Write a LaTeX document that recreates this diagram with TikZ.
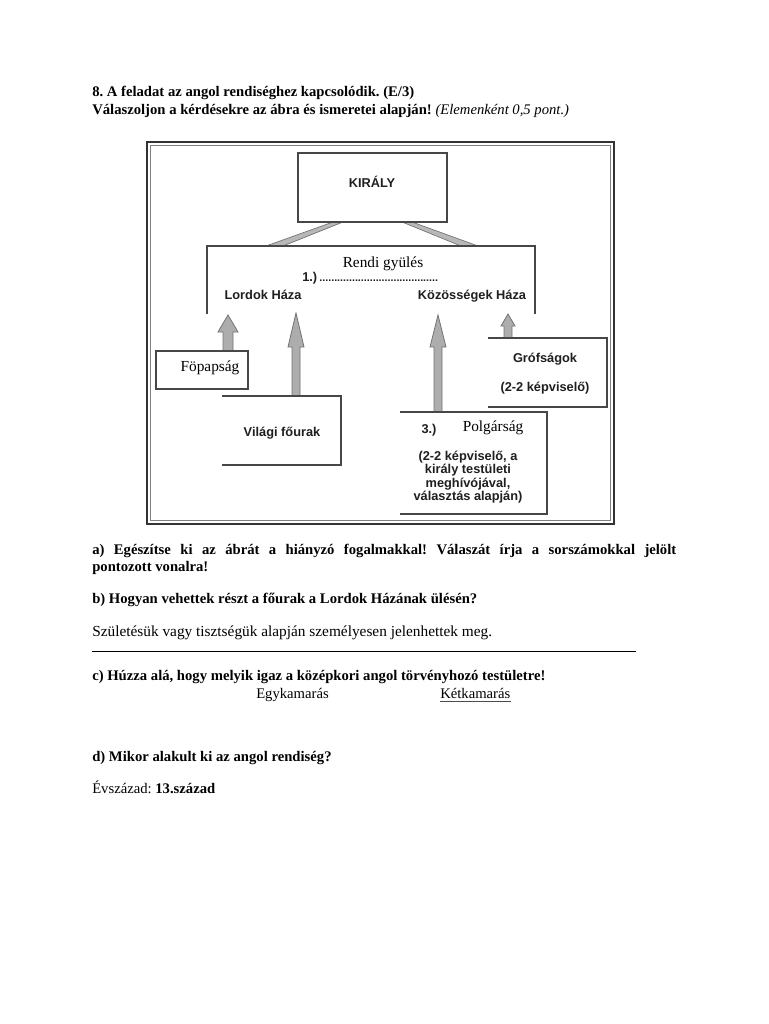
\documentclass[tikz,border=0pt]{standalone}
\usepackage{fontspec}
\setmainfont{Liberation Serif}
\newfontfamily\arialf{Liberation Sans}
\frenchspacing
\begin{document}
\frenchspacing
\begin{tikzpicture}[x=0.75pt,y=-0.75pt,
  boxline/.style={draw=black!72, line width=1.1pt},
  sanslbl/.style={font=\arialf\bfseries\fontsize{9.6}{8.6}\selectfont, text=black!88, inner sep=0, anchor=base},
  seriflbl/.style={font=\fontsize{11.5}{13}\selectfont, inner sep=0, anchor=base},
  blockarrow/.style={fill=black!32, draw=black!55, line width=0.6pt},
  band/.style={fill=black!28, draw=black!55, line width=0.5pt},
  qtext/.style={font=\bfseries\fontsize{11}{13}\selectfont, anchor=base west, inner sep=0},
  rtext/.style={font=\fontsize{11.5}{13}\selectfont, anchor=base west, inner sep=0}]
\useasboundingbox (0,0) rectangle (768,1024);
\fill[white] (0,0) rectangle (768,1024);

% header
\node[qtext] (h1) at (92,97) {8. A feladat az angol rendiséghez kapcsolódik. (E/3)};
\node[qtext] (h2) at (92,114) {Válaszoljon a kérdésekre az ábra és ismeretei alapján! {\mdseries\itshape (Elemenként 0,5 pont.)}};

% frame
\draw[line width=1.2pt, black!80] (147,142) rectangle (614,524);
\draw[line width=0.6pt, black!50] (150.5,145.5) rectangle (610.5,520.5);

% bands from king to assembly
\filldraw[band] (333,222) -- (343,222) -- (283,246) -- (266,246) -- cycle;
\filldraw[band] (402,222) -- (412,222) -- (478,246) -- (461,246) -- cycle;

% king
\draw[boxline, fill=white] (298,153) rectangle (447,222);
\node[sanslbl] (kiraly) at (372,187.5) {KIRÁLY};

% assembly
\draw[boxline] (207,314) -- (207,246) -- (535,246) -- (535,314);
\node[seriflbl] (rendi) at (383,267) {Rendi gyülés};
\node[sanslbl, anchor=base west] (egy) at (302,281) {1.) \fontsize{8}{8}\selectfont\kern-1pt ........................................};
\node[sanslbl] (lordok) at (263,299) {Lordok Háza};
\node[sanslbl] (kozos) at (472,299) {Közösségek Háza};

% arrows
\filldraw[blockarrow] (223,351) -- (223,332) -- (218,332) -- (228,315) -- (238,332) -- (233,332) -- (233,351) -- cycle;
\filldraw[blockarrow] (292,396) -- (292,347) -- (288,347) -- (296,313) -- (304,347) -- (300,347) -- (300,396) -- cycle;
\filldraw[blockarrow] (434,412) -- (434,347) -- (430,347) -- (438,315) -- (446,347) -- (442,347) -- (442,412) -- cycle;
\filldraw[blockarrow] (504,338) -- (504,326) -- (501,326) -- (508,314) -- (515,326) -- (512,326) -- (512,338) -- cycle;

% lower boxes
\draw[boxline] (156,351) rectangle (248,389);
\node[seriflbl] (fopap) at (210,371) {Föpapság};

\draw[boxline] (222,396) -- (341,396) -- (341,465) -- (222,465);
\node[sanslbl] (vilagi) at (282,436) {Világi főurak};

\draw[boxline] (488,338) -- (607,338) -- (607,407) -- (488,407);
\node[sanslbl] (grof1) at (545,362) {Grófságok};
\node[sanslbl] (grof2) at (545,391) {(2-2 képviselő)};

\draw[boxline] (400,412) -- (547,412) -- (547,514) -- (400,514);
\node[sanslbl] (harom) at (429,433) {3.)};
\node[seriflbl] (polg) at (493,431) {Polgárság};
\node[sanslbl, align=center, anchor=center] (polgdesc) at (468,477) {(2-2 képviselő, a\\király testületi\\meghívójával,\\választás alapján)};

% questions
\node[qtext] (qa1) at (92,554) {\makebox[438pt][s]{a) Egészítse ki az ábrát a hiányzó fogalmakkal! Válaszát írja a sorszámokkal jelölt}};
\node[qtext] (qa2) at (92,571) {pontozott vonalra!};
\node[qtext] (qb) at (92,603) {b) Hogyan vehettek részt a főurak a Lordok Házának ülésén?};
\node[rtext] (ansb) at (92,636) {Születésük vagy tisztségük alapján személyesen jelenhettek meg.};
\draw[line width=0.5pt] (92,651) -- (636,651);
\node[qtext] (qc) at (92,680) {c) Húzza alá, hogy melyik igaz a középkori angol törvényhozó testületre!};
\node[rtext, font=\fontsize{11}{13}\selectfont] (egyk) at (256,698) {Egykamarás};
\node[rtext, font=\fontsize{11}{13}\selectfont] (ketk) at (440,698) {Kétkamarás};
\draw[line width=0.5pt, black!70] ([yshift=-2.25pt]ketk.base west) -- ([yshift=-2.25pt]ketk.base east);
\node[qtext] (qd) at (92,761) {d) Mikor alakult ki az angol rendiség?};
\node[rtext, font=\fontsize{11}{13}\selectfont] (evsz) at (92,793) {Évszázad: \textbf{13.század}};
\end{tikzpicture}
\end{document}
